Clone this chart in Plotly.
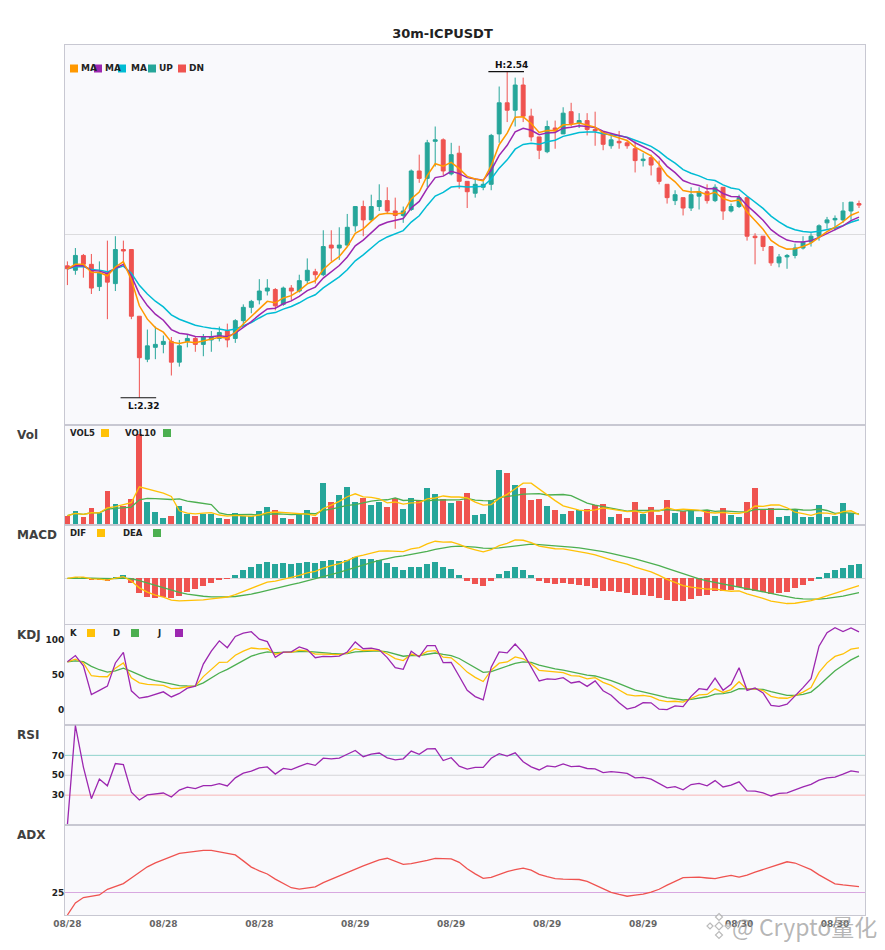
import numpy as np
import pandas as pd
import plotly.graph_objects as go
from plotly.subplots import make_subplots

# ---------------- data ----------------
open_ = [2.409, 2.406, 2.416, 2.410, 2.395, 2.404, 2.397, 2.420, 2.420, 2.375,
         2.346, 2.354, 2.356, 2.358, 2.344, 2.358, 2.360, 2.356, 2.359, 2.360,
         2.365, 2.360, 2.372, 2.381, 2.386, 2.392, 2.393, 2.383, 2.394, 2.392,
         2.399, 2.405, 2.403, 2.423, 2.421, 2.423, 2.436, 2.449, 2.440, 2.449,
         2.453, 2.446, 2.443, 2.447, 2.473, 2.468, 2.493, 2.494, 2.471, 2.485,
         2.466, 2.458, 2.462, 2.464, 2.498, 2.519, 2.514, 2.531, 2.510, 2.496,
         2.486, 2.502, 2.498, 2.513, 2.505, 2.507, 2.501, 2.499, 2.490, 2.493,
         2.492, 2.488, 2.480, 2.482, 2.475, 2.464, 2.453, 2.455, 2.448, 2.456,
         2.459, 2.453, 2.462, 2.446, 2.449, 2.455, 2.429, 2.429, 2.422, 2.411,
         2.415, 2.416, 2.421, 2.425, 2.429, 2.438, 2.440, 2.440, 2.446, 2.451]
high = [2.412, 2.421, 2.417, 2.417, 2.412, 2.426, 2.429, 2.426, 2.420, 2.375,
        2.366, 2.368, 2.362, 2.361, 2.359, 2.363, 2.361, 2.363, 2.365, 2.368,
        2.370, 2.373, 2.383, 2.386, 2.400, 2.400, 2.394, 2.395, 2.396, 2.403,
        2.414, 2.407, 2.433, 2.433, 2.435, 2.444, 2.449, 2.453, 2.457, 2.464,
        2.462, 2.455, 2.449, 2.474, 2.484, 2.494, 2.503, 2.495, 2.492, 2.490,
        2.466, 2.468, 2.466, 2.498, 2.530, 2.540, 2.536, 2.536, 2.515, 2.496,
        2.507, 2.507, 2.516, 2.519, 2.512, 2.512, 2.513, 2.499, 2.497, 2.500,
        2.494, 2.493, 2.485, 2.484, 2.480, 2.464, 2.460, 2.455, 2.462, 2.462,
        2.464, 2.464, 2.462, 2.451, 2.457, 2.456, 2.431, 2.429, 2.422, 2.417,
        2.417, 2.424, 2.429, 2.431, 2.437, 2.442, 2.443, 2.452, 2.452, 2.453]
low = [2.396, 2.403, 2.401, 2.390, 2.392, 2.373, 2.392, 2.410, 2.373, 2.320,
       2.344, 2.346, 2.350, 2.335, 2.341, 2.354, 2.351, 2.348, 2.351, 2.358,
       2.354, 2.357, 2.369, 2.377, 2.383, 2.389, 2.379, 2.382, 2.386, 2.391,
       2.397, 2.397, 2.402, 2.412, 2.413, 2.422, 2.432, 2.429, 2.439, 2.446,
       2.444, 2.434, 2.438, 2.446, 2.465, 2.462, 2.476, 2.470, 2.470, 2.461,
       2.448, 2.455, 2.460, 2.460, 2.492, 2.506, 2.503, 2.506, 2.493, 2.481,
       2.485, 2.488, 2.498, 2.503, 2.502, 2.497, 2.490, 2.487, 2.488, 2.488,
       2.488, 2.472, 2.476, 2.470, 2.464, 2.451, 2.450, 2.443, 2.446, 2.447,
       2.451, 2.452, 2.440, 2.445, 2.448, 2.426, 2.410, 2.419, 2.409, 2.408,
       2.407, 2.414, 2.420, 2.422, 2.426, 2.434, 2.433, 2.438, 2.440, 2.448]
close = [2.407, 2.416, 2.410, 2.394, 2.404, 2.398, 2.420, 2.419, 2.375, 2.347,
         2.355, 2.356, 2.358, 2.344, 2.355, 2.360, 2.356, 2.361, 2.361, 2.364,
         2.359, 2.372, 2.381, 2.385, 2.392, 2.394, 2.382, 2.394, 2.392, 2.399,
         2.406, 2.403, 2.422, 2.421, 2.423, 2.435, 2.449, 2.440, 2.449, 2.453,
         2.446, 2.443, 2.446, 2.473, 2.468, 2.492, 2.494, 2.473, 2.484, 2.466,
         2.459, 2.464, 2.464, 2.497, 2.519, 2.514, 2.531, 2.510, 2.496, 2.487,
         2.503, 2.500, 2.512, 2.505, 2.507, 2.501, 2.500, 2.491, 2.494, 2.492,
         2.490, 2.480, 2.481, 2.477, 2.466, 2.455, 2.457, 2.448, 2.457, 2.459,
         2.453, 2.462, 2.446, 2.449, 2.455, 2.429, 2.428, 2.422, 2.411, 2.415,
         2.416, 2.421, 2.425, 2.429, 2.436, 2.440, 2.441, 2.446, 2.452, 2.450]
volume_k = [28, 42, 25, 52, 35, 102, 63, 58, 78, 272,
            69, 39, 21, 27, 57, 34, 27, 34, 34, 21,
            18, 36, 27, 27, 42, 54, 45, 21, 18, 34,
            45, 25, 126, 69, 90, 114, 69, 81, 60, 69,
            54, 81, 48, 81, 72, 111, 93, 78, 66, 72,
            96, 30, 33, 75, 165, 156, 120, 111, 75, 78,
            57, 45, 33, 42, 45, 48, 60, 63, 24, 33,
            21, 69, 33, 54, 30, 75, 36, 42, 45, 24,
            42, 27, 51, 30, 24, 69, 111, 45, 51, 24,
            27, 45, 24, 24, 60, 24, 27, 66, 36, 3]

start_time = "2023-08-28 08:00"
title_text = "30m-ICPUSDT"
ma_periods = [5, 8, 13]
tick_step = 12

# ---------------- derived series (indicators computed from the data) ----------------
n = len(close)
times = pd.date_range(start_time, periods=n, freq="30min")
idx = list(range(n))
h = pd.Series(high); l = pd.Series(low); c = pd.Series(close)
v = pd.Series(volume_k) * 1000

ma_fast, ma_mid, ma_slow = [c.ewm(span=p, adjust=False).mean() for p in ma_periods]
vol5 = v.rolling(5, min_periods=1).mean()
vol10 = v.rolling(10, min_periods=1).mean()

ema12 = c.ewm(span=12, adjust=False).mean()
ema26 = c.ewm(span=26, adjust=False).mean()
dif = ema12 - ema26
dea = dif.ewm(span=9, adjust=False).mean()
hist = (dif - dea) * 2

low9 = l.rolling(9, min_periods=1).min()
high9 = h.rolling(9, min_periods=1).max()
rsv = ((c - low9) / (high9 - low9) * 100).fillna(50)
K = rsv.ewm(com=2, adjust=False).mean()
D = K.ewm(com=2, adjust=False).mean()
J = 3 * K - 2 * D

delta = c.diff()
gain = delta.clip(lower=0)
loss = -delta.clip(upper=0)
ag = gain.ewm(alpha=1 / 14, adjust=True).mean()
al = loss.ewm(alpha=1 / 14, adjust=True).mean()
rsi = (100 - 100 / (1 + ag / al)).fillna(0)
rsi[al == 0] = 100
rsi[0] = 0

up_m = h.diff(); dn_m = -l.diff()
pdm = pd.Series(np.where((up_m > dn_m) & (up_m > 0), up_m, 0.0))
mdm = pd.Series(np.where((dn_m > up_m) & (dn_m > 0), dn_m, 0.0))
pc = c.shift(1)
tr = pd.concat([h - l, (h - pc).abs(), (l - pc).abs()], axis=1).max(axis=1)
atr = tr.ewm(span=14, adjust=False).mean()
pdi = 100 * pdm.ewm(span=14, adjust=False).mean() / atr
mdi = 100 * mdm.ewm(span=14, adjust=False).mean() / atr
dx = (100 * (pdi - mdi).abs() / (pdi + mdi)).fillna(0)
adx = dx.ewm(span=14, adjust=False).mean()

# ---------------- style ----------------
UP = "#26A69A"; DN = "#EF5350"
C_MA5 = "#FF9800"; C_MA10 = "#9C27B0"; C_MA20 = "#00BCD4"
C_Y = "#FFC107"; C_G = "#4CAF50"; C_P = "#9C27B0"
BG = "#F9F9FC"; BORDER = "#C8C8D2"
FONT = "DejaVu Sans"
OFF = 8  # page margin of the browser
W, H = 869, 934
ML, MT = 65 - OFF, 45 - OFF
PW, PH = 800, 870
MR, MB = W - ML - PW, H - MT - PH


def pxx(x):
    return (x - OFF - ML) / PW


def pxy(y):
    return (MT + PH - (y - OFF)) / PH


fig = make_subplots(rows=6, cols=1, shared_xaxes=True, vertical_spacing=0,
                    row_heights=[380, 100, 100, 100, 100, 90])

fig.add_trace(go.Candlestick(x=idx, open=open_, high=high, low=low, close=close,
                             increasing=dict(line=dict(color=UP, width=1), fillcolor=UP),
                             decreasing=dict(line=dict(color=DN, width=1), fillcolor=DN),
                             whiskerwidth=0), row=1, col=1)
for s, col in [(ma_slow, C_MA20), (ma_mid, C_MA10), (ma_fast, C_MA5)]:
    fig.add_trace(go.Scatter(x=idx, y=s, mode="lines", line=dict(color=col, width=1.5)), row=1, col=1)

bar_colors = [UP if cc >= oo else DN for oo, cc in zip(open_, close)]
fig.add_trace(go.Bar(x=idx, y=v, marker=dict(color=bar_colors, line_width=0), width=0.72), row=2, col=1)
fig.add_trace(go.Scatter(x=idx, y=vol10, mode="lines", line=dict(color=C_G, width=1.3)), row=2, col=1)
fig.add_trace(go.Scatter(x=idx, y=vol5, mode="lines", line=dict(color=C_Y, width=1.3)), row=2, col=1)

hist_colors = [UP if x >= 0 else DN for x in hist]
fig.add_trace(go.Bar(x=idx, y=hist, marker=dict(color=hist_colors, line_width=0), width=0.72), row=3, col=1)
fig.add_trace(go.Scatter(x=idx, y=dea, mode="lines", line=dict(color=C_G, width=1.3)), row=3, col=1)
fig.add_trace(go.Scatter(x=idx, y=dif, mode="lines", line=dict(color=C_Y, width=1.3)), row=3, col=1)

fig.add_trace(go.Scatter(x=idx, y=D, mode="lines", line=dict(color=C_G, width=1.3)), row=4, col=1)
fig.add_trace(go.Scatter(x=idx, y=K, mode="lines", line=dict(color=C_Y, width=1.3)), row=4, col=1)
fig.add_trace(go.Scatter(x=idx, y=J, mode="lines", line=dict(color=C_P, width=1.3)), row=4, col=1)

fig.add_trace(go.Scatter(x=idx, y=rsi, mode="lines", line=dict(color=C_P, width=1.3)), row=5, col=1)
fig.add_trace(go.Scatter(x=idx, y=adx, mode="lines", line=dict(color=DN, width=1.3)), row=6, col=1)

for y, col, r in [(100, "#8FD3CB", 4), (50, "#D5D5D8", 4), (0, "#F7B5B5", 4),
                  (70, "#8FD3CB", 5), (50, "#D5D5D8", 5), (30, "#F7B5B5", 5),
                  (25, "#D8A8E0", 6)]:
    fig.add_hline(y=y, line=dict(color=col, width=1), layer="below", row=r, col=1)

ih = int(np.argmax(high)); il = int(np.argmin(low))
for i, val, ys in [(ih, high[ih], 7), (il, low[il], -8)]:
    fig.add_shape(type="line", x0=i - 2.35, x1=i + 2.1, y0=val, y1=val, xref="x", yref="y",
                  line=dict(color="#111", width=1.2))
    fig.add_annotation(x=i + 0.6, y=val, xref="x", yref="y", text=("H:" if ys > 0 else "L:") + f"{val:.2f}",
                       showarrow=False, yshift=ys, font=dict(family=FONT, size=9, color="#111", weight="bold"))

xr = [-0.3, 99.75]
tick_idx = list(range(0, n, tick_step))
tick_text = [times[i].strftime("%m/%d") for i in tick_idx]
for r in range(1, 7):
    fig.update_xaxes(range=xr, showgrid=False, zeroline=False, showline=True, mirror=True,
                     linecolor=BORDER, linewidth=1, ticks="", showticklabels=(r == 6),
                     row=r, col=1)
fig.update_xaxes(tickvals=tick_idx, ticktext=tick_text,
                 tickfont=dict(family=FONT, size=9, color="#666", weight="bold"), row=6, col=1)
fig.update_xaxes(rangeslider_visible=False, row=1, col=1)

tf = dict(family=FONT, size=9, color="#222", weight="bold")
common = dict(showline=True, mirror=True, linecolor=BORDER, linewidth=1, ticks="", zeroline=False)
fig.update_yaxes(range=[2.3016, 2.558], tickvals=[2.43], showticklabels=False, showgrid=True,
                 gridcolor="#DCDCDE", gridwidth=1, row=1, col=1, **common)
fig.update_yaxes(range=[0, v.max() / 0.907], showgrid=False, showticklabels=False, row=2, col=1, **common)
m_hi = max(dif.max(), dea.max(), hist.max()) / 0.72
m_lo = -m_hi * 46.7 / 53.3
fig.update_yaxes(range=[m_lo, m_hi], showgrid=False, showticklabels=False, row=3, col=1, **common)
fig.update_yaxes(zeroline=True, zerolinecolor="#D5D5D8", zerolinewidth=1, row=3, col=1)
fig.update_yaxes(range=[-20.8, 120.8], tickvals=[0, 50, 100], showgrid=False, tickfont=tf,
                 ticklabelstandoff=-2, row=4, col=1, **common)
fig.update_yaxes(range=[0, 100.5], tickvals=[30, 50, 70], showgrid=False, tickfont=tf,
                 ticklabelstandoff=-2, row=5, col=1, **common)
fig.update_yaxes(range=[0, 100], tickvals=[25], showgrid=False, tickfont=tf,
                 ticklabelstandoff=-2, row=6, col=1, **common)


def ann(text, x, y, size, color="#222", anchor="left", family=FONT, weight="bold"):
    fig.add_annotation(text=text, x=pxx(x - 2 if anchor == "left" else x), y=pxy(y), xref="paper", yref="paper",
                       xanchor=anchor, yanchor="middle", showarrow=False,
                       font=dict(family=family, size=size, color=color, weight=weight))


def sq(x0, y0, x1, y1, color):
    fig.add_shape(type="rect", xref="paper", yref="paper", x0=pxx(x0), x1=pxx(x1), y0=pxy(y1), y1=pxy(y0),
                  fillcolor=color, line_width=0, layer="above")


for (s0, t0, lab, col) in [(70, 81, "MA", C_MA5), (94, 105, "MA", C_MA10), (118, 131, "MA", C_MA20),
                           (148, 159, "UP", UP), (178, 189, "DN", DN)]:
    ann(lab, t0, 68.5, 9)
    sq(s0, 64.5, s0 + 8, 72.5, col)

for lab, tx, sx, col, yc in [("VOL5", 70, 101, C_Y, 433), ("VOL10", 125, 163, C_G, 433),
                             ("DIF", 70, 97, C_Y, 533), ("DEA", 123, 153, C_G, 533),
                             ("K", 70, 87, C_Y, 633), ("D", 113, 131, C_G, 633), ("J", 157, 175, C_P, 633)]:
    ann(lab, tx, yc, 8.5)
    sq(sx, yc - 4, sx + 8, yc + 4, col)

for lab, yc in [("Vol", 435), ("MACD", 535), ("KDJ", 635), ("RSI", 735), ("ADX", 835)]:
    ann(lab, 17, yc, 12, color="#404040")

ann("@ Crypto量化", 879, 926, 23, color="rgba(150,150,150,0.7)", anchor="right",
    family="Noto Sans CJK SC", weight="normal")


def diamond(cx, cy, r):
    pts = [(cx, cy - r), (cx + r, cy), (cx, cy + r), (cx - r, cy)]
    return "M " + " L ".join(f"{pxx(a):.5f},{pxy(b):.5f}" for a, b in pts) + " Z"


for (dxp, dyp, r) in [(0, 0, 4), (-9, 0, 3), (9, 0, 3), (0, -9, 3.5), (0, 9, 3.5)]:
    fig.add_shape(type="path", xref="paper", yref="paper", path=diamond(719 + dxp, 926 + dyp, r),
                  fillcolor="rgba(255,255,255,0.6)", line=dict(color="rgba(170,170,170,0.8)", width=1.2))

fig.update_layout(
    width=W, height=H, margin=dict(l=ML, r=MR, t=MT, b=MB),
    paper_bgcolor="white", plot_bgcolor=BG, showlegend=False, bargap=0,
    title=dict(text=f"<b>{title_text}</b>", x=0.5, xref="container", xanchor="center",
               y=1 - (33 - OFF) / H, yref="container", yanchor="middle",
               font=dict(family=FONT, size=13, color="#222")),
    font=dict(family=FONT),
)

fig.write_html("out.html")
